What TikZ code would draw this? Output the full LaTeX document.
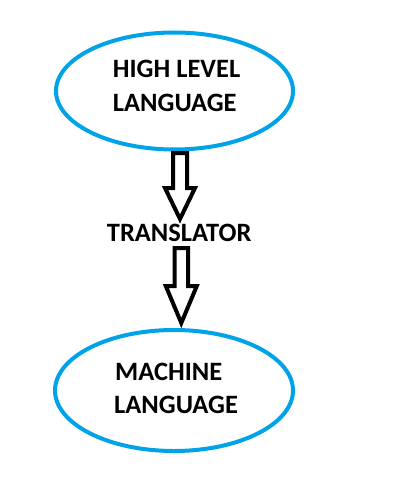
\documentclass[tikz,border=0pt]{standalone}
\usepackage{fontspec}
\setmainfont{Carlito}
\usetikzlibrary{shapes.geometric,calc}
\definecolor{paintblue}{RGB}{0,162,232}
\tikzset{
  every picture/.style={x=1pt,y=-1pt},
  ellipsebox/.style={ellipse,draw=paintblue,line width=4pt,inner sep=0pt,outer sep=0pt},
  txt/.style={font=\fontsize{26.5}{30}\selectfont\bfseries,inner sep=0pt,anchor=base west},
  blockarrow/.style={draw=black,line width=4pt,line join=miter,fill=white}
}
\begin{document}
\begin{tikzpicture}
\useasboundingbox (0,0) rectangle (400,500);
% ellipses
\node[ellipsebox,minimum width=237pt,minimum height=117pt] (hll) at (174.5,91) {};
\node[ellipsebox,minimum width=238pt,minimum height=121pt] (ml) at (174,390.5) {};
% arrows
\coordinate (a1top) at (180,153);
\coordinate (a1tip) at (180,219);
\coordinate (a2top) at (181.3,248);
\coordinate (a2tip) at (181.3,323);
\draw[blockarrow] ($(a1top)+(-7,0)$) -- ($(a1top)+(-7,35)$) -- ($(a1top)+(-15,35)$)
  -- (a1tip) -- ($(a1top)+(15,35)$) -- ($(a1top)+(7,35)$) -- ($(a1top)+(7,0)$) -- cycle;
\draw[blockarrow] ($(a2top)+(-6.7,0)$) -- ($(a2top)+(-6.7,38)$) -- ($(a2top)+(-15.5,38)$)
  -- (a2tip) -- ($(a2top)+(15.5,38)$) -- ($(a2top)+(6.7,38)$) -- ($(a2top)+(6.7,0)$) -- cycle;
% texts
\node[txt] (hll1) at (112.7,78) {HIGH LEVEL};
\node[txt] (hll2) at (112.7,111.7) {LANGUAGE};
\node[txt] (tr) at (106.7,241.7) {TRANSLATOR};
\node[txt] (ml1) at (115,380) {MACHINE};
\node[txt] (ml2) at (114,413) {LANGUAGE};
\end{tikzpicture}
\end{document}
